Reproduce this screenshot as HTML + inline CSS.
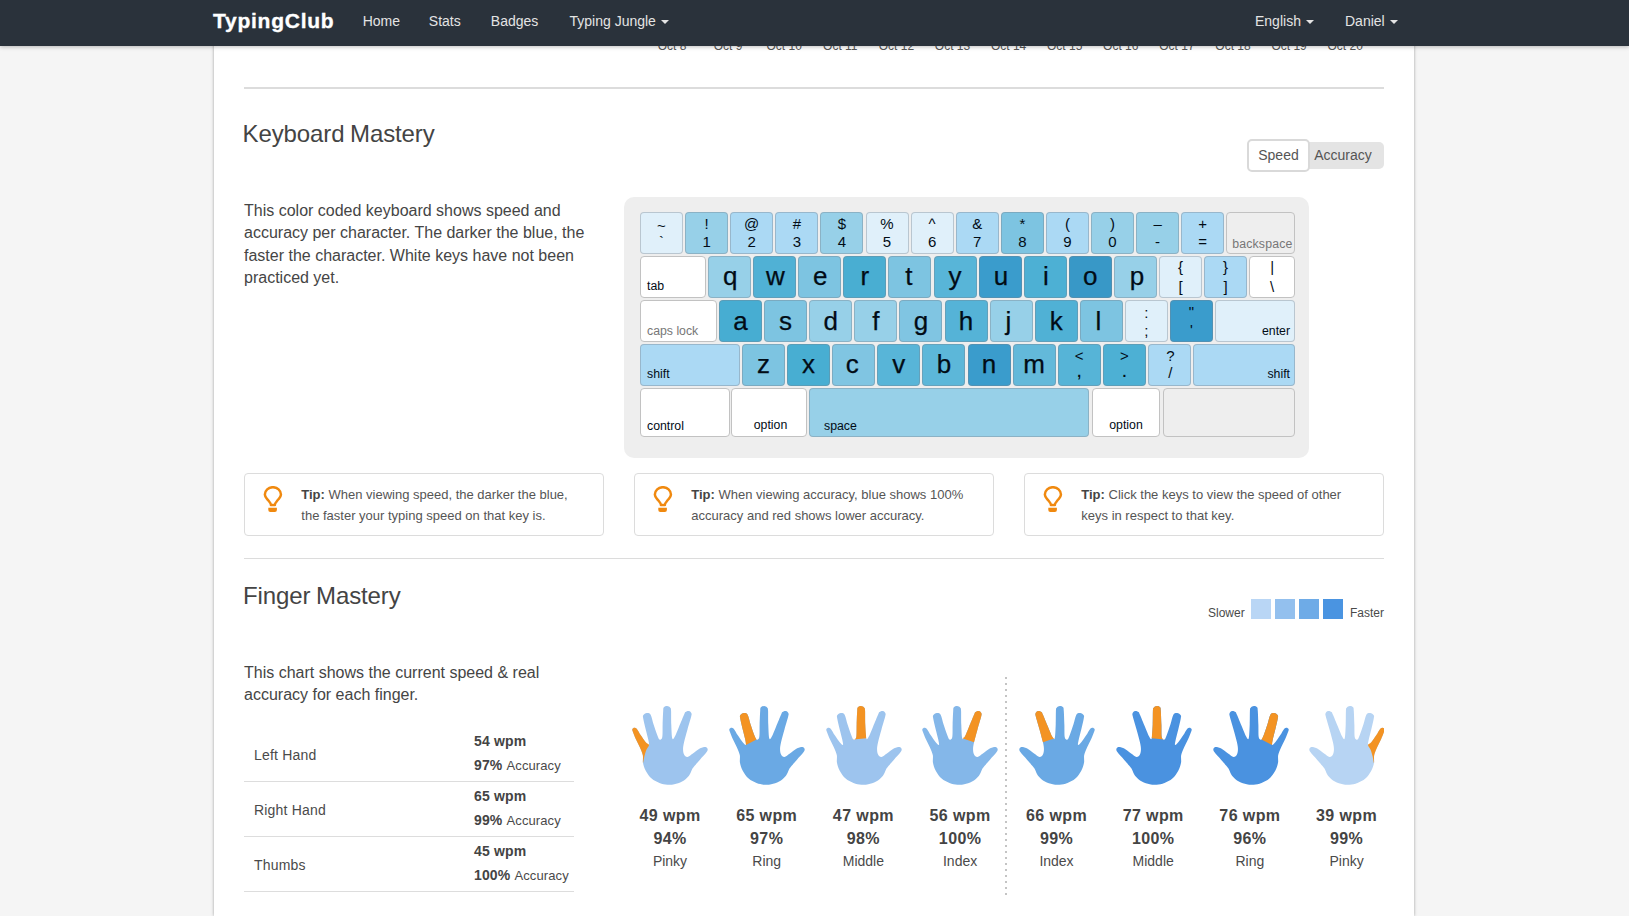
<!DOCTYPE html>
<html lang="en"><head><meta charset="utf-8"><title>TypingClub - Stats</title>
<style>
*{box-sizing:border-box}
html,body{margin:0;padding:0}
body{width:1629px;height:916px;overflow:hidden;background:#f5f5f5;font-family:"Liberation Sans", Arial, sans-serif;color:#444;position:relative}
.abs{position:absolute;white-space:nowrap}
#page{position:absolute;left:214px;top:0;width:1200px;height:916px;background:#fff;box-shadow:0 0 3px rgba(0,0,0,.35)}
#nav{position:absolute;left:0;top:0;width:1629px;height:46px;background:#2a323b;box-shadow:0 1px 4px rgba(0,0,0,.25);z-index:5}
#nav .lnk{position:absolute;top:0;line-height:42px;font-size:14px;color:#e4e4e4;white-space:nowrap}
#nav .brand{position:absolute;left:213px;top:0;line-height:41px;font-size:21px;font-weight:bold;color:#fff;letter-spacing:.75px;-webkit-text-stroke:.35px #fff}
.caret{display:inline-block;width:0;height:0;border-left:4px solid transparent;border-right:4px solid transparent;border-top:4px solid #e4e4e4;vertical-align:middle;margin-left:5px;margin-top:-1px}
.hr{position:absolute;left:244px;width:1140px;height:2px;background:#dcdcdc}
h2{position:absolute;margin:0;font-weight:normal;font-size:24px;color:#444;white-space:nowrap;line-height:28px;letter-spacing:-.1px;word-spacing:-1px}
.desc{position:absolute;left:244px;font-size:16px;line-height:22.4px;color:#454545;white-space:nowrap}
#kb{position:absolute;left:624px;top:197px;width:685px;height:261px;background:#eeeeee;border-radius:10px}
.k{position:absolute;border:1px solid rgba(120,130,140,.38);border-radius:4px;color:#020c16;text-align:center;overflow:hidden}
.k.w0{border-color:#c2c2c2}
.k .c{position:absolute;left:0;right:0;white-space:nowrap}
.k .one{font-size:26px;line-height:26px;top:5.5px;-webkit-text-stroke:.25px #020c16}
.k .t1{font-size:15px;line-height:15px;top:2.5px}
.k .t2{font-size:15px;line-height:15px;top:22.5px}
.k .lb{font-size:12.3px;line-height:12px;position:absolute;bottom:5px;white-space:nowrap}
.tip{position:absolute;top:473px;width:360px;height:63px;border:1px solid #dcdcdc;border-radius:4px;background:#fff}
.tip svg{position:absolute;left:17.5px;top:12px}
.tip p{position:absolute;left:56.3px;top:11px;margin:0;font-size:13px;line-height:20.8px;color:#555;white-space:nowrap;letter-spacing:0}
.tip b{color:#444}
.tbl{position:absolute;left:244px;width:330px;height:55px;border-bottom:1px solid #ddd}
.tbl .n{position:absolute;left:10px;top:1px;line-height:54px;font-size:14px;color:#4a4a4a;letter-spacing:.2px}
.tbl .a{position:absolute;left:230px;top:2.3px;font-size:14px;letter-spacing:.15px;line-height:24.0px;color:#444;white-space:nowrap}
.tbl .a span{font-size:13px;letter-spacing:.1px;color:#4a4a4a}
.hd{position:absolute;top:700px;width:90px;height:90px;overflow:visible}
.ft{position:absolute;width:120px;text-align:center;white-space:nowrap;color:#444}
.ft.b{font-weight:bold;font-size:16px;line-height:20px;letter-spacing:.4px}
.ft.l{font-size:14px;line-height:18px;color:#4a4a4a}
</style></head><body>

<div id="page"></div>
<div class="abs" style="left:642.0px;top:38px;width:60px;text-align:center;font-size:12px;line-height:16px;color:#555">Oct 8</div>
<div class="abs" style="left:698.1px;top:38px;width:60px;text-align:center;font-size:12px;line-height:16px;color:#555">Oct 9</div>
<div class="abs" style="left:754.2px;top:38px;width:60px;text-align:center;font-size:12px;line-height:16px;color:#555">Oct 10</div>
<div class="abs" style="left:810.3px;top:38px;width:60px;text-align:center;font-size:12px;line-height:16px;color:#555">Oct 11</div>
<div class="abs" style="left:866.4px;top:38px;width:60px;text-align:center;font-size:12px;line-height:16px;color:#555">Oct 12</div>
<div class="abs" style="left:922.5px;top:38px;width:60px;text-align:center;font-size:12px;line-height:16px;color:#555">Oct 13</div>
<div class="abs" style="left:978.6px;top:38px;width:60px;text-align:center;font-size:12px;line-height:16px;color:#555">Oct 14</div>
<div class="abs" style="left:1034.7px;top:38px;width:60px;text-align:center;font-size:12px;line-height:16px;color:#555">Oct 15</div>
<div class="abs" style="left:1090.8px;top:38px;width:60px;text-align:center;font-size:12px;line-height:16px;color:#555">Oct 16</div>
<div class="abs" style="left:1146.9px;top:38px;width:60px;text-align:center;font-size:12px;line-height:16px;color:#555">Oct 17</div>
<div class="abs" style="left:1203.0px;top:38px;width:60px;text-align:center;font-size:12px;line-height:16px;color:#555">Oct 18</div>
<div class="abs" style="left:1259.1px;top:38px;width:60px;text-align:center;font-size:12px;line-height:16px;color:#555">Oct 19</div>
<div class="abs" style="left:1315.2px;top:38px;width:60px;text-align:center;font-size:12px;line-height:16px;color:#555">Oct 20</div>
<div id="nav"><div class="brand">TypingClub</div>
<div class="lnk" style="left:362.7px">Home</div>
<div class="lnk" style="left:428.8px">Stats</div>
<div class="lnk" style="left:490.8px">Badges</div>
<div class="lnk" style="left:569.5px">Typing Jungle<span class="caret"></span></div>
<div class="lnk" style="left:1255.0px">English<span class="caret"></span></div>
<div class="lnk" style="left:1345.0px">Daniel<span class="caret"></span></div>
</div>
<div class="hr" style="top:87px"></div>
<h2 style="left:242.5px;top:120px">Keyboard Mastery</h2>
<div class="abs" style="left:1309px;top:142px;width:75px;height:27px;background:#e4e4e4;border-radius:0 5px 5px 0;font-size:14px;line-height:27px;color:#555;text-align:center;padding-right:7px">Accuracy</div>
<div class="abs" style="left:1247px;top:139px;width:63px;height:33px;background:#fff;border:2px solid #d9d9d9;border-radius:5px;font-size:14px;line-height:28px;color:#555;text-align:center">Speed</div>
<div class="desc" style="top:200px">This color coded keyboard shows speed and<br>accuracy per character. The darker the blue, the<br>faster the character. White keys have not been<br>practiced yet.</div>
<div id="kb">
<div class="k" style="left:16.0px;top:15.0px;width:43.0px;height:42px;background:#e0f0fa"><span class="c t1" style="top:2.5px;margin-top:2px">~</span><span class="c t2" style="top:21.0px">`</span></div>
<div class="k" style="left:61.1px;top:15.0px;width:43.0px;height:42px;background:#97d0e8"><span class="c t1" style="top:2.5px">!</span><span class="c t2" style="top:21.0px">1</span></div>
<div class="k" style="left:106.2px;top:15.0px;width:43.0px;height:42px;background:#abd9f4"><span class="c t1" style="top:2.5px">@</span><span class="c t2" style="top:21.0px">2</span></div>
<div class="k" style="left:151.3px;top:15.0px;width:43.0px;height:42px;background:#abd9f4"><span class="c t1" style="top:2.5px">#</span><span class="c t2" style="top:21.0px">3</span></div>
<div class="k" style="left:196.4px;top:15.0px;width:43.0px;height:42px;background:#97d0e8"><span class="c t1" style="top:2.5px">$</span><span class="c t2" style="top:21.0px">4</span></div>
<div class="k" style="left:241.5px;top:15.0px;width:43.0px;height:42px;background:#e0f0fa"><span class="c t1" style="top:2.5px">%</span><span class="c t2" style="top:21.0px">5</span></div>
<div class="k" style="left:286.6px;top:15.0px;width:43.0px;height:42px;background:#e0f0fa"><span class="c t1" style="top:2.5px">^</span><span class="c t2" style="top:21.0px">6</span></div>
<div class="k" style="left:331.7px;top:15.0px;width:43.0px;height:42px;background:#abd9f4"><span class="c t1" style="top:2.5px">&amp;</span><span class="c t2" style="top:21.0px">7</span></div>
<div class="k" style="left:376.8px;top:15.0px;width:43.0px;height:42px;background:#7dc4e1"><span class="c t1" style="top:2.5px">*</span><span class="c t2" style="top:21.0px">8</span></div>
<div class="k" style="left:421.9px;top:15.0px;width:43.0px;height:42px;background:#abd9f4"><span class="c t1" style="top:2.5px">(</span><span class="c t2" style="top:21.0px">9</span></div>
<div class="k" style="left:467.0px;top:15.0px;width:43.0px;height:42px;background:#97d0e8"><span class="c t1" style="top:2.5px">)</span><span class="c t2" style="top:21.0px">0</span></div>
<div class="k" style="left:512.1px;top:15.0px;width:43.0px;height:42px;background:#97d0e8"><span class="c t1" style="top:2.5px">–</span><span class="c t2" style="top:21.0px">-</span></div>
<div class="k" style="left:557.2px;top:15.0px;width:43.0px;height:42px;background:#abd9f4"><span class="c t1" style="top:2.5px">+</span><span class="c t2" style="top:21.0px">=</span></div>
<div class="k w0" style="left:602.3px;top:15.0px;width:68.7px;height:42px;background:#eeeeee"><span class="lb" style="left:6px;color:#777;bottom:3px;letter-spacing:.15px;left:5px;margin-bottom:0px">backspace</span></div>
<div class="k w0" style="left:16.0px;top:59.1px;width:66.0px;height:42px;background:#ffffff"><span class="lb" style="left:6px;margin-bottom:0px">tab</span></div>
<div class="k" style="left:84.0px;top:59.1px;width:43.0px;height:42px;background:#97d0e8"><span class="c one" style="margin-left:1.6px;margin-top:0px">q</span></div>
<div class="k" style="left:129.1px;top:59.1px;width:43.0px;height:42px;background:#50b1d5"><span class="c one" style="margin-left:1.6px;margin-top:0px">w</span></div>
<div class="k" style="left:174.2px;top:59.1px;width:43.0px;height:42px;background:#7dc4e1"><span class="c one" style="margin-left:1.0px;margin-top:0px">e</span></div>
<div class="k" style="left:219.3px;top:59.1px;width:43.0px;height:42px;background:#49aed2"><span class="c one" style="margin-left:0.0px;margin-top:0px">r</span></div>
<div class="k" style="left:264.4px;top:59.1px;width:43.0px;height:42px;background:#7dc4e1"><span class="c one" style="margin-left:-2.0px;margin-top:0px">t</span></div>
<div class="k" style="left:309.5px;top:59.1px;width:43.0px;height:42px;background:#58b5d8"><span class="c one" style="margin-left:0.0px;margin-top:0px">y</span></div>
<div class="k" style="left:354.6px;top:59.1px;width:43.0px;height:42px;background:#3a9ccc"><span class="c one" style="margin-left:2.0px;margin-top:0px">u</span></div>
<div class="k" style="left:399.7px;top:59.1px;width:43.0px;height:42px;background:#4db0d4"><span class="c one" style="margin-left:1.4px;margin-top:0px">i</span></div>
<div class="k" style="left:444.8px;top:59.1px;width:43.0px;height:42px;background:#3898c7"><span class="c one" style="margin-left:0.0px;margin-top:0px">o</span></div>
<div class="k" style="left:489.9px;top:59.1px;width:43.0px;height:42px;background:#97d0e8"><span class="c one" style="margin-left:3.0px;margin-top:0px">p</span></div>
<div class="k" style="left:535.0px;top:59.1px;width:43.0px;height:42px;background:#e0f0fa"><span class="c t1" style="top:1.5px">{</span><span class="c t2" style="top:22.0px">[</span></div>
<div class="k" style="left:580.1px;top:59.1px;width:43.0px;height:42px;background:#abd9f4"><span class="c t1" style="top:1.5px">}</span><span class="c t2" style="top:22.0px">]</span></div>
<div class="k w0" style="left:625.2px;top:59.1px;width:45.8px;height:42px;background:#ffffff"><span class="c t1" style="top:1.5px">|</span><span class="c t2" style="top:22.0px">\</span></div>
<div class="k w0" style="left:16.0px;top:103.2px;width:76.5px;height:42px;background:#ffffff"><span class="lb" style="left:6px;color:#777;margin-bottom:-1px">caps lock</span></div>
<div class="k" style="left:95.0px;top:103.2px;width:43.0px;height:42px;background:#47add2"><span class="c one" style="margin-left:0.0px;margin-top:1px">a</span></div>
<div class="k" style="left:140.1px;top:103.2px;width:43.0px;height:42px;background:#7dc4e1"><span class="c one" style="margin-left:0.0px;margin-top:1px">s</span></div>
<div class="k" style="left:185.2px;top:103.2px;width:43.0px;height:42px;background:#97d0e8"><span class="c one" style="margin-left:0.0px;margin-top:1px">d</span></div>
<div class="k" style="left:230.3px;top:103.2px;width:43.0px;height:42px;background:#97d0e8"><span class="c one" style="margin-left:0.0px;margin-top:1px">f</span></div>
<div class="k" style="left:275.4px;top:103.2px;width:43.0px;height:42px;background:#80c5e2"><span class="c one" style="margin-left:0.0px;margin-top:1px">g</span></div>
<div class="k" style="left:320.5px;top:103.2px;width:43.0px;height:42px;background:#55b3d7"><span class="c one" style="margin-left:0.0px;margin-top:1px">h</span></div>
<div class="k" style="left:365.6px;top:103.2px;width:43.0px;height:42px;background:#97d0e8"><span class="c one" style="margin-left:-5.2px;margin-top:1px">j</span></div>
<div class="k" style="left:410.7px;top:103.2px;width:43.0px;height:42px;background:#50b1d5"><span class="c one" style="margin-left:0.0px;margin-top:1px">k</span></div>
<div class="k" style="left:455.8px;top:103.2px;width:43.0px;height:42px;background:#7dc4e1"><span class="c one" style="margin-left:-6.0px;margin-top:1px">l</span></div>
<div class="k" style="left:500.9px;top:103.2px;width:43.0px;height:42px;background:#e0f0fa"><span class="c t1" style="top:3.5px">:</span><span class="c t2" style="top:22.0px">;</span></div>
<div class="k" style="left:546.0px;top:103.2px;width:43.0px;height:42px;background:#3a9ccc"><span class="c t1" style="top:2.5px">"</span><span class="c t2" style="top:21.0px">'</span></div>
<div class="k" style="left:591.1px;top:103.2px;width:79.9px;height:42px;background:#e0f0fa"><span class="lb" style="right:4px;margin-bottom:-1px">enter</span></div>
<div class="k" style="left:16.0px;top:147.3px;width:100.0px;height:42px;background:#abd9f4"><span class="lb" style="left:6px;margin-bottom:0px">shift</span></div>
<div class="k" style="left:118.0px;top:147.3px;width:43.0px;height:42px;background:#7dc4e1"><span class="c one" style="margin-left:0.0px;margin-top:0px">z</span></div>
<div class="k" style="left:163.1px;top:147.3px;width:43.0px;height:42px;background:#48aed2"><span class="c one" style="margin-left:0.0px;margin-top:0px">x</span></div>
<div class="k" style="left:208.2px;top:147.3px;width:43.0px;height:42px;background:#80c5e2"><span class="c one" style="margin-left:-3.0px;margin-top:0px">c</span></div>
<div class="k" style="left:253.3px;top:147.3px;width:43.0px;height:42px;background:#58b5d8"><span class="c one" style="margin-left:0.0px;margin-top:0px">v</span></div>
<div class="k" style="left:298.4px;top:147.3px;width:43.0px;height:42px;background:#5cb7d9"><span class="c one" style="margin-left:0.0px;margin-top:0px">b</span></div>
<div class="k" style="left:343.5px;top:147.3px;width:43.0px;height:42px;background:#3a9ccc"><span class="c one" style="margin-left:0.0px;margin-top:0px">n</span></div>
<div class="k" style="left:388.6px;top:147.3px;width:43.0px;height:42px;background:#63b9da"><span class="c one" style="margin-left:0.0px;margin-top:0px">m</span></div>
<div class="k" style="left:433.7px;top:147.3px;width:43.0px;height:42px;background:#56b4d7"><span class="c t1" style="top:2.5px">&lt;</span><span class="c t2" style="font-size:21px;line-height:21px;top:14px">,</span></div>
<div class="k" style="left:478.8px;top:147.3px;width:43.0px;height:42px;background:#4db0d4"><span class="c t1" style="top:2.5px">&gt;</span><span class="c t2" style="font-size:21px;line-height:21px;top:14px">.</span></div>
<div class="k" style="left:523.9px;top:147.3px;width:43.0px;height:42px;background:#abd9f4"><span class="c t1" style="top:2.5px;margin-left:2px">?</span><span class="c t2" style="top:19.5px;margin-left:2px">/</span></div>
<div class="k" style="left:569.0px;top:147.3px;width:102.0px;height:42px;background:#abd9f4"><span class="lb" style="right:4px;margin-bottom:0px">shift</span></div>
<div class="k w0" style="left:16.0px;top:191.4px;width:90.0px;height:49px;background:#ffffff"><span class="lb" style="left:6px;margin-bottom:-1px">control</span></div>
<div class="k w0" style="left:107.0px;top:191.4px;width:76.0px;height:49px;background:#ffffff"><span class="lb" style="left:3px;right:0;bottom:5px">option</span></div>
<div class="k" style="left:185.0px;top:191.4px;width:280.0px;height:49px;background:#97d0e8"><span class="lb" style="left:14px;margin-bottom:-1px">space</span></div>
<div class="k w0" style="left:468.0px;top:191.4px;width:68.0px;height:49px;background:#ffffff"><span class="lb" style="left:0px;right:0;bottom:5px">option</span></div>
<div class="k w0" style="left:539.0px;top:191.4px;width:132.0px;height:49px;background:#eeeeee"></div>
</div>
<div class="tip" style="left:244px"><svg width="20" height="27" viewBox="0 0 20 27"><path d="M7.9 19.100C7.9 17 6.200 15.600 4.600 13.600C3.200 11.800 1.850 10.600 1.850 8.600C1.850 4.500 5.450 1.200 9.900 1.200C14.350 1.200 17.950 4.500 17.950 8.600C17.950 10.600 16.600 11.800 15.200 13.600C13.600 15.600 11.900 17 11.900 19.100Z" fill="none" stroke="#f0890f" stroke-width="2.500" stroke-linejoin="round"/><path d="M5.300 21.800H13.900V24a2 2 0 0 1-2 2H7.300a2 2 0 0 1-2-2Z" fill="#f0890f"/></svg><p><b>Tip:</b> When viewing speed, the darker the blue,<br>the faster your typing speed on that key is.</p></div>
<div class="tip" style="left:634px"><svg width="20" height="27" viewBox="0 0 20 27"><path d="M7.9 19.100C7.9 17 6.200 15.600 4.600 13.600C3.200 11.800 1.850 10.600 1.850 8.600C1.850 4.500 5.450 1.200 9.900 1.200C14.350 1.200 17.950 4.500 17.950 8.600C17.950 10.600 16.600 11.800 15.200 13.600C13.600 15.600 11.900 17 11.900 19.100Z" fill="none" stroke="#f0890f" stroke-width="2.500" stroke-linejoin="round"/><path d="M5.300 21.800H13.900V24a2 2 0 0 1-2 2H7.300a2 2 0 0 1-2-2Z" fill="#f0890f"/></svg><p><b>Tip:</b> When viewing accuracy, blue shows 100%<br>accuracy and red shows lower accuracy.</p></div>
<div class="tip" style="left:1024px"><svg width="20" height="27" viewBox="0 0 20 27"><path d="M7.9 19.100C7.9 17 6.200 15.600 4.600 13.600C3.200 11.800 1.850 10.600 1.850 8.600C1.850 4.500 5.450 1.200 9.900 1.200C14.350 1.200 17.950 4.500 17.950 8.600C17.950 10.600 16.600 11.800 15.200 13.600C13.600 15.600 11.900 17 11.900 19.100Z" fill="none" stroke="#f0890f" stroke-width="2.500" stroke-linejoin="round"/><path d="M5.300 21.800H13.900V24a2 2 0 0 1-2 2H7.300a2 2 0 0 1-2-2Z" fill="#f0890f"/></svg><p><b>Tip:</b> Click the keys to view the speed of other<br>keys in respect to that key.</p></div>
<div class="hr" style="top:558px;height:1px"></div>
<h2 style="left:243px;top:582px">Finger Mastery</h2>
<div class="abs" style="left:1208px;top:606px;font-size:12px;line-height:14px;color:#4a4a4a">Slower</div>
<div class="abs" style="left:1251px;top:599px;width:20px;height:20px;background:#b9d6f5"></div>
<div class="abs" style="left:1275px;top:599px;width:20px;height:20px;background:#93c0ee"></div>
<div class="abs" style="left:1299px;top:599px;width:20px;height:20px;background:#6eabe7"></div>
<div class="abs" style="left:1323px;top:599px;width:20px;height:20px;background:#4a94e1"></div>
<div class="abs" style="left:1350px;top:606px;font-size:12px;line-height:14px;color:#4a4a4a">Faster</div>
<div class="desc" style="top:662px">This chart shows the current speed &amp; real<br>accuracy for each finger.</div>
<div class="tbl" style="top:727px"><div class="n">Left Hand</div><div class="a"><b>54 wpm</b><br><b>97%</b> <span>Accuracy</span></div></div>
<div class="tbl" style="top:782px"><div class="n">Right Hand</div><div class="a"><b>65 wpm</b><br><b>99%</b> <span>Accuracy</span></div></div>
<div class="tbl" style="top:837px"><div class="n">Thumbs</div><div class="a"><b>45 wpm</b><br><b>100%</b> <span>Accuracy</span></div></div>
<div class="abs" style="left:1005px;top:677px;width:2px;height:218px;background:repeating-linear-gradient(to bottom,#c4c4c4 0,#c4c4c4 2px,transparent 2px,transparent 6px)"></div>
<div class="abs" style="left:244px;top:660px;width:1140px;height:256px;overflow:hidden">
<svg class="hd" style="left:380.3px;top:39.8px" width="90" height="90" viewBox="0 0 90 90"><g><path d="M18.79 55.01C18.26 52.39 16.99 49.77 15.84 47.15C14.69 44.53 13.09 41.91 11.91 39.29C10.73 36.67 9.34 33.15 8.77 31.43C8.20 29.72 8.20 29.60 8.47 28.98C8.75 28.36 9.70 27.70 10.44 27.70C11.17 27.70 11.83 27.70 12.89 28.98C13.96 30.26 15.35 33.15 16.82 35.36C18.30 37.57 20.38 40.65 21.73 42.24C23.09 43.83 24.57 45.38 24.98 44.89C25.39 44.40 24.73 41.86 24.19 39.29C23.65 36.72 22.55 32.91 21.73 29.47C20.92 26.03 19.69 21.04 19.28 18.66C18.87 16.29 18.71 16.18 19.28 15.23C19.85 14.28 21.49 13.05 22.72 12.97C23.94 12.88 25.50 12.80 26.65 14.73C27.79 16.67 28.53 21.28 29.59 24.56C30.66 27.83 32.05 31.89 33.03 34.38C34.01 36.87 34.62 39.00 35.49 39.49C36.35 39.98 37.71 39.82 38.24 37.33C38.76 34.84 38.47 28.98 38.63 24.56C38.79 20.14 39.01 13.67 39.22 10.81C39.43 7.94 39.25 8.15 39.91 7.37C40.56 6.58 42.09 6.04 43.15 6.09C44.21 6.14 45.64 6.88 46.29 7.66C46.95 8.45 46.91 7.99 47.08 10.81C47.24 13.62 47.08 19.97 47.28 24.56C47.47 29.14 47.68 36.26 48.26 38.31C48.83 40.36 49.57 38.80 50.71 36.84C51.86 34.87 53.58 30.21 55.13 26.52C56.69 22.84 58.98 17.16 60.05 14.73C61.11 12.31 60.70 12.61 61.52 11.98C62.34 11.36 63.97 10.79 64.96 11.00C65.94 11.21 67.05 12.31 67.41 13.26C67.77 14.21 67.77 14.00 67.12 16.70C66.46 19.40 64.66 25.21 63.48 29.47C62.30 33.73 60.78 38.97 60.05 42.24C59.31 45.51 59.06 47.07 59.06 49.12C59.06 51.16 59.31 53.21 60.05 54.52C60.78 55.83 62.01 57.14 63.48 56.97C64.96 56.81 66.84 54.93 68.89 53.54C70.93 52.14 74.04 49.69 75.76 48.62C77.48 47.56 78.14 47.40 79.20 47.15C80.26 46.91 81.41 46.82 82.15 47.15C82.88 47.48 83.54 48.30 83.62 49.12C83.70 49.93 83.95 50.26 82.64 52.06C81.33 53.86 77.89 57.47 75.76 59.92C73.63 62.38 71.18 65.16 69.87 66.80C68.56 68.43 68.72 68.27 67.90 69.74C67.09 71.22 66.59 73.67 64.96 75.64C63.32 77.60 60.54 80.09 58.08 81.53C55.62 82.97 52.68 83.76 50.22 84.28C47.77 84.81 45.80 84.89 43.35 84.68C40.89 84.46 38.11 84.02 35.49 83.01C32.87 81.99 29.92 80.63 27.63 78.59C25.34 76.54 23.18 73.35 21.73 70.73C20.29 68.11 19.48 65.49 18.98 62.87C18.49 60.25 19.31 57.63 18.79 55.01Z" fill="#9dc4ee"/><path d="M18.98 62.87C18.72 62.62 19.31 57.63 18.79 55.01C18.26 52.39 16.99 49.77 15.84 47.15C14.69 44.53 13.09 41.91 11.91 39.29C10.73 36.67 9.34 33.15 8.77 31.43C8.20 29.72 8.20 29.60 8.47 28.98C8.75 28.36 9.70 27.70 10.44 27.70C11.17 27.70 11.83 27.70 12.89 28.98C13.96 30.26 15.35 33.15 16.82 35.36C18.30 37.57 20.38 40.65 21.73 42.24C23.09 43.83 24.85 43.66 24.98 44.89C25.11 46.12 23.29 47.68 22.52 49.61C21.75 51.54 20.95 54.27 20.36 56.48C19.77 58.69 19.25 63.11 18.98 62.87Z" fill="#f39323"/></g></svg>
<div class="ft b" style="left:366.0px;top:146px">49 wpm</div>
<div class="ft b" style="left:366.0px;top:169px">94%</div>
<div class="ft l" style="left:366.0px;top:192px">Pinky</div>
<svg class="hd" style="left:477.0px;top:39.8px" width="90" height="90" viewBox="0 0 90 90"><g><path d="M18.79 55.01C18.26 52.39 16.99 49.77 15.84 47.15C14.69 44.53 13.09 41.91 11.91 39.29C10.73 36.67 9.34 33.15 8.77 31.43C8.20 29.72 8.20 29.60 8.47 28.98C8.75 28.36 9.70 27.70 10.44 27.70C11.17 27.70 11.83 27.70 12.89 28.98C13.96 30.26 15.35 33.15 16.82 35.36C18.30 37.57 20.38 40.65 21.73 42.24C23.09 43.83 24.57 45.38 24.98 44.89C25.39 44.40 24.73 41.86 24.19 39.29C23.65 36.72 22.55 32.91 21.73 29.47C20.92 26.03 19.69 21.04 19.28 18.66C18.87 16.29 18.71 16.18 19.28 15.23C19.85 14.28 21.49 13.05 22.72 12.97C23.94 12.88 25.50 12.80 26.65 14.73C27.79 16.67 28.53 21.28 29.59 24.56C30.66 27.83 32.05 31.89 33.03 34.38C34.01 36.87 34.62 39.00 35.49 39.49C36.35 39.98 37.71 39.82 38.24 37.33C38.76 34.84 38.47 28.98 38.63 24.56C38.79 20.14 39.01 13.67 39.22 10.81C39.43 7.94 39.25 8.15 39.91 7.37C40.56 6.58 42.09 6.04 43.15 6.09C44.21 6.14 45.64 6.88 46.29 7.66C46.95 8.45 46.91 7.99 47.08 10.81C47.24 13.62 47.08 19.97 47.28 24.56C47.47 29.14 47.68 36.26 48.26 38.31C48.83 40.36 49.57 38.80 50.71 36.84C51.86 34.87 53.58 30.21 55.13 26.52C56.69 22.84 58.98 17.16 60.05 14.73C61.11 12.31 60.70 12.61 61.52 11.98C62.34 11.36 63.97 10.79 64.96 11.00C65.94 11.21 67.05 12.31 67.41 13.26C67.77 14.21 67.77 14.00 67.12 16.70C66.46 19.40 64.66 25.21 63.48 29.47C62.30 33.73 60.78 38.97 60.05 42.24C59.31 45.51 59.06 47.07 59.06 49.12C59.06 51.16 59.31 53.21 60.05 54.52C60.78 55.83 62.01 57.14 63.48 56.97C64.96 56.81 66.84 54.93 68.89 53.54C70.93 52.14 74.04 49.69 75.76 48.62C77.48 47.56 78.14 47.40 79.20 47.15C80.26 46.91 81.41 46.82 82.15 47.15C82.88 47.48 83.54 48.30 83.62 49.12C83.70 49.93 83.95 50.26 82.64 52.06C81.33 53.86 77.89 57.47 75.76 59.92C73.63 62.38 71.18 65.16 69.87 66.80C68.56 68.43 68.72 68.27 67.90 69.74C67.09 71.22 66.59 73.67 64.96 75.64C63.32 77.60 60.54 80.09 58.08 81.53C55.62 82.97 52.68 83.76 50.22 84.28C47.77 84.81 45.80 84.89 43.35 84.68C40.89 84.46 38.11 84.02 35.49 83.01C32.87 81.99 29.92 80.63 27.63 78.59C25.34 76.54 23.18 73.35 21.73 70.73C20.29 68.11 19.48 65.49 18.98 62.87C18.49 60.25 19.31 57.63 18.79 55.01Z" fill="#6aa9e4"/><path d="M24.98 44.89C24.85 43.96 24.73 41.86 24.19 39.29C23.65 36.72 22.55 32.91 21.73 29.47C20.92 26.03 19.69 21.04 19.28 18.66C18.87 16.29 18.71 16.18 19.28 15.23C19.85 14.28 21.49 13.05 22.72 12.97C23.94 12.88 25.50 12.80 26.65 14.73C27.79 16.67 28.53 21.28 29.59 24.56C30.66 27.83 32.05 31.89 33.03 34.38C34.01 36.87 35.08 38.64 35.49 39.49Z" fill="#f39323"/></g></svg>
<div class="ft b" style="left:462.7px;top:146px">65 wpm</div>
<div class="ft b" style="left:462.7px;top:169px">97%</div>
<div class="ft l" style="left:462.7px;top:192px">Ring</div>
<svg class="hd" style="left:573.7px;top:39.8px" width="90" height="90" viewBox="0 0 90 90"><g><path d="M18.79 55.01C18.26 52.39 16.99 49.77 15.84 47.15C14.69 44.53 13.09 41.91 11.91 39.29C10.73 36.67 9.34 33.15 8.77 31.43C8.20 29.72 8.20 29.60 8.47 28.98C8.75 28.36 9.70 27.70 10.44 27.70C11.17 27.70 11.83 27.70 12.89 28.98C13.96 30.26 15.35 33.15 16.82 35.36C18.30 37.57 20.38 40.65 21.73 42.24C23.09 43.83 24.57 45.38 24.98 44.89C25.39 44.40 24.73 41.86 24.19 39.29C23.65 36.72 22.55 32.91 21.73 29.47C20.92 26.03 19.69 21.04 19.28 18.66C18.87 16.29 18.71 16.18 19.28 15.23C19.85 14.28 21.49 13.05 22.72 12.97C23.94 12.88 25.50 12.80 26.65 14.73C27.79 16.67 28.53 21.28 29.59 24.56C30.66 27.83 32.05 31.89 33.03 34.38C34.01 36.87 34.62 39.00 35.49 39.49C36.35 39.98 37.71 39.82 38.24 37.33C38.76 34.84 38.47 28.98 38.63 24.56C38.79 20.14 39.01 13.67 39.22 10.81C39.43 7.94 39.25 8.15 39.91 7.37C40.56 6.58 42.09 6.04 43.15 6.09C44.21 6.14 45.64 6.88 46.29 7.66C46.95 8.45 46.91 7.99 47.08 10.81C47.24 13.62 47.08 19.97 47.28 24.56C47.47 29.14 47.68 36.26 48.26 38.31C48.83 40.36 49.57 38.80 50.71 36.84C51.86 34.87 53.58 30.21 55.13 26.52C56.69 22.84 58.98 17.16 60.05 14.73C61.11 12.31 60.70 12.61 61.52 11.98C62.34 11.36 63.97 10.79 64.96 11.00C65.94 11.21 67.05 12.31 67.41 13.26C67.77 14.21 67.77 14.00 67.12 16.70C66.46 19.40 64.66 25.21 63.48 29.47C62.30 33.73 60.78 38.97 60.05 42.24C59.31 45.51 59.06 47.07 59.06 49.12C59.06 51.16 59.31 53.21 60.05 54.52C60.78 55.83 62.01 57.14 63.48 56.97C64.96 56.81 66.84 54.93 68.89 53.54C70.93 52.14 74.04 49.69 75.76 48.62C77.48 47.56 78.14 47.40 79.20 47.15C80.26 46.91 81.41 46.82 82.15 47.15C82.88 47.48 83.54 48.30 83.62 49.12C83.70 49.93 83.95 50.26 82.64 52.06C81.33 53.86 77.89 57.47 75.76 59.92C73.63 62.38 71.18 65.16 69.87 66.80C68.56 68.43 68.72 68.27 67.90 69.74C67.09 71.22 66.59 73.67 64.96 75.64C63.32 77.60 60.54 80.09 58.08 81.53C55.62 82.97 52.68 83.76 50.22 84.28C47.77 84.81 45.80 84.89 43.35 84.68C40.89 84.46 38.11 84.02 35.49 83.01C32.87 81.99 29.92 80.63 27.63 78.59C25.34 76.54 23.18 73.35 21.73 70.73C20.29 68.11 19.48 65.49 18.98 62.87C18.49 60.25 19.31 57.63 18.79 55.01Z" fill="#9dc4ee"/><path d="M35.49 39.49C35.95 39.13 37.71 39.82 38.24 37.33C38.76 34.84 38.47 28.98 38.63 24.56C38.79 20.14 39.01 13.67 39.22 10.81C39.43 7.94 39.25 8.15 39.91 7.37C40.56 6.58 42.09 6.04 43.15 6.09C44.21 6.14 45.64 6.88 46.29 7.66C46.95 8.45 46.91 7.99 47.08 10.81C47.24 13.62 47.08 19.97 47.28 24.56C47.47 29.14 48.09 36.02 48.26 38.31Z" fill="#f39323"/></g></svg>
<div class="ft b" style="left:559.4px;top:146px">47 wpm</div>
<div class="ft b" style="left:559.4px;top:169px">98%</div>
<div class="ft l" style="left:559.4px;top:192px">Middle</div>
<svg class="hd" style="left:670.4px;top:39.8px" width="90" height="90" viewBox="0 0 90 90"><g><path d="M18.79 55.01C18.26 52.39 16.99 49.77 15.84 47.15C14.69 44.53 13.09 41.91 11.91 39.29C10.73 36.67 9.34 33.15 8.77 31.43C8.20 29.72 8.20 29.60 8.47 28.98C8.75 28.36 9.70 27.70 10.44 27.70C11.17 27.70 11.83 27.70 12.89 28.98C13.96 30.26 15.35 33.15 16.82 35.36C18.30 37.57 20.38 40.65 21.73 42.24C23.09 43.83 24.57 45.38 24.98 44.89C25.39 44.40 24.73 41.86 24.19 39.29C23.65 36.72 22.55 32.91 21.73 29.47C20.92 26.03 19.69 21.04 19.28 18.66C18.87 16.29 18.71 16.18 19.28 15.23C19.85 14.28 21.49 13.05 22.72 12.97C23.94 12.88 25.50 12.80 26.65 14.73C27.79 16.67 28.53 21.28 29.59 24.56C30.66 27.83 32.05 31.89 33.03 34.38C34.01 36.87 34.62 39.00 35.49 39.49C36.35 39.98 37.71 39.82 38.24 37.33C38.76 34.84 38.47 28.98 38.63 24.56C38.79 20.14 39.01 13.67 39.22 10.81C39.43 7.94 39.25 8.15 39.91 7.37C40.56 6.58 42.09 6.04 43.15 6.09C44.21 6.14 45.64 6.88 46.29 7.66C46.95 8.45 46.91 7.99 47.08 10.81C47.24 13.62 47.08 19.97 47.28 24.56C47.47 29.14 47.68 36.26 48.26 38.31C48.83 40.36 49.57 38.80 50.71 36.84C51.86 34.87 53.58 30.21 55.13 26.52C56.69 22.84 58.98 17.16 60.05 14.73C61.11 12.31 60.70 12.61 61.52 11.98C62.34 11.36 63.97 10.79 64.96 11.00C65.94 11.21 67.05 12.31 67.41 13.26C67.77 14.21 67.77 14.00 67.12 16.70C66.46 19.40 64.66 25.21 63.48 29.47C62.30 33.73 60.78 38.97 60.05 42.24C59.31 45.51 59.06 47.07 59.06 49.12C59.06 51.16 59.31 53.21 60.05 54.52C60.78 55.83 62.01 57.14 63.48 56.97C64.96 56.81 66.84 54.93 68.89 53.54C70.93 52.14 74.04 49.69 75.76 48.62C77.48 47.56 78.14 47.40 79.20 47.15C80.26 46.91 81.41 46.82 82.15 47.15C82.88 47.48 83.54 48.30 83.62 49.12C83.70 49.93 83.95 50.26 82.64 52.06C81.33 53.86 77.89 57.47 75.76 59.92C73.63 62.38 71.18 65.16 69.87 66.80C68.56 68.43 68.72 68.27 67.90 69.74C67.09 71.22 66.59 73.67 64.96 75.64C63.32 77.60 60.54 80.09 58.08 81.53C55.62 82.97 52.68 83.76 50.22 84.28C47.77 84.81 45.80 84.89 43.35 84.68C40.89 84.46 38.11 84.02 35.49 83.01C32.87 81.99 29.92 80.63 27.63 78.59C25.34 76.54 23.18 73.35 21.73 70.73C20.29 68.11 19.48 65.49 18.98 62.87C18.49 60.25 19.31 57.63 18.79 55.01Z" fill="#84b7e9"/><path d="M48.26 38.31C48.67 38.06 49.57 38.80 50.71 36.84C51.86 34.87 53.58 30.21 55.13 26.52C56.69 22.84 58.98 17.16 60.05 14.73C61.11 12.31 60.70 12.61 61.52 11.98C62.34 11.36 63.97 10.79 64.96 11.00C65.94 11.21 67.05 12.31 67.41 13.26C67.77 14.21 67.77 14.00 67.12 16.70C66.46 19.40 64.66 25.21 63.48 29.47C62.30 33.73 60.62 40.11 60.05 42.24Z" fill="#f39323"/></g></svg>
<div class="ft b" style="left:656.1px;top:146px">56 wpm</div>
<div class="ft b" style="left:656.1px;top:169px">100%</div>
<div class="ft l" style="left:656.1px;top:192px">Index</div>
<svg class="hd" style="left:769.2px;top:39.8px" width="90" height="90" viewBox="0 0 90 90"><g transform="translate(90 0) scale(-1 1)"><path d="M18.79 55.01C18.26 52.39 16.99 49.77 15.84 47.15C14.69 44.53 13.09 41.91 11.91 39.29C10.73 36.67 9.34 33.15 8.77 31.43C8.20 29.72 8.20 29.60 8.47 28.98C8.75 28.36 9.70 27.70 10.44 27.70C11.17 27.70 11.83 27.70 12.89 28.98C13.96 30.26 15.35 33.15 16.82 35.36C18.30 37.57 20.38 40.65 21.73 42.24C23.09 43.83 24.57 45.38 24.98 44.89C25.39 44.40 24.73 41.86 24.19 39.29C23.65 36.72 22.55 32.91 21.73 29.47C20.92 26.03 19.69 21.04 19.28 18.66C18.87 16.29 18.71 16.18 19.28 15.23C19.85 14.28 21.49 13.05 22.72 12.97C23.94 12.88 25.50 12.80 26.65 14.73C27.79 16.67 28.53 21.28 29.59 24.56C30.66 27.83 32.05 31.89 33.03 34.38C34.01 36.87 34.62 39.00 35.49 39.49C36.35 39.98 37.71 39.82 38.24 37.33C38.76 34.84 38.47 28.98 38.63 24.56C38.79 20.14 39.01 13.67 39.22 10.81C39.43 7.94 39.25 8.15 39.91 7.37C40.56 6.58 42.09 6.04 43.15 6.09C44.21 6.14 45.64 6.88 46.29 7.66C46.95 8.45 46.91 7.99 47.08 10.81C47.24 13.62 47.08 19.97 47.28 24.56C47.47 29.14 47.68 36.26 48.26 38.31C48.83 40.36 49.57 38.80 50.71 36.84C51.86 34.87 53.58 30.21 55.13 26.52C56.69 22.84 58.98 17.16 60.05 14.73C61.11 12.31 60.70 12.61 61.52 11.98C62.34 11.36 63.97 10.79 64.96 11.00C65.94 11.21 67.05 12.31 67.41 13.26C67.77 14.21 67.77 14.00 67.12 16.70C66.46 19.40 64.66 25.21 63.48 29.47C62.30 33.73 60.78 38.97 60.05 42.24C59.31 45.51 59.06 47.07 59.06 49.12C59.06 51.16 59.31 53.21 60.05 54.52C60.78 55.83 62.01 57.14 63.48 56.97C64.96 56.81 66.84 54.93 68.89 53.54C70.93 52.14 74.04 49.69 75.76 48.62C77.48 47.56 78.14 47.40 79.20 47.15C80.26 46.91 81.41 46.82 82.15 47.15C82.88 47.48 83.54 48.30 83.62 49.12C83.70 49.93 83.95 50.26 82.64 52.06C81.33 53.86 77.89 57.47 75.76 59.92C73.63 62.38 71.18 65.16 69.87 66.80C68.56 68.43 68.72 68.27 67.90 69.74C67.09 71.22 66.59 73.67 64.96 75.64C63.32 77.60 60.54 80.09 58.08 81.53C55.62 82.97 52.68 83.76 50.22 84.28C47.77 84.81 45.80 84.89 43.35 84.68C40.89 84.46 38.11 84.02 35.49 83.01C32.87 81.99 29.92 80.63 27.63 78.59C25.34 76.54 23.18 73.35 21.73 70.73C20.29 68.11 19.48 65.49 18.98 62.87C18.49 60.25 19.31 57.63 18.79 55.01Z" fill="#6aa9e4"/><path d="M48.26 38.31C48.67 38.06 49.57 38.80 50.71 36.84C51.86 34.87 53.58 30.21 55.13 26.52C56.69 22.84 58.98 17.16 60.05 14.73C61.11 12.31 60.70 12.61 61.52 11.98C62.34 11.36 63.97 10.79 64.96 11.00C65.94 11.21 67.05 12.31 67.41 13.26C67.77 14.21 67.77 14.00 67.12 16.70C66.46 19.40 64.66 25.21 63.48 29.47C62.30 33.73 60.62 40.11 60.05 42.24Z" fill="#f39323"/></g></svg>
<div class="ft b" style="left:752.5px;top:146px">66 wpm</div>
<div class="ft b" style="left:752.5px;top:169px">99%</div>
<div class="ft l" style="left:752.5px;top:192px">Index</div>
<svg class="hd" style="left:865.9px;top:39.8px" width="90" height="90" viewBox="0 0 90 90"><g transform="translate(90 0) scale(-1 1)"><path d="M18.79 55.01C18.26 52.39 16.99 49.77 15.84 47.15C14.69 44.53 13.09 41.91 11.91 39.29C10.73 36.67 9.34 33.15 8.77 31.43C8.20 29.72 8.20 29.60 8.47 28.98C8.75 28.36 9.70 27.70 10.44 27.70C11.17 27.70 11.83 27.70 12.89 28.98C13.96 30.26 15.35 33.15 16.82 35.36C18.30 37.57 20.38 40.65 21.73 42.24C23.09 43.83 24.57 45.38 24.98 44.89C25.39 44.40 24.73 41.86 24.19 39.29C23.65 36.72 22.55 32.91 21.73 29.47C20.92 26.03 19.69 21.04 19.28 18.66C18.87 16.29 18.71 16.18 19.28 15.23C19.85 14.28 21.49 13.05 22.72 12.97C23.94 12.88 25.50 12.80 26.65 14.73C27.79 16.67 28.53 21.28 29.59 24.56C30.66 27.83 32.05 31.89 33.03 34.38C34.01 36.87 34.62 39.00 35.49 39.49C36.35 39.98 37.71 39.82 38.24 37.33C38.76 34.84 38.47 28.98 38.63 24.56C38.79 20.14 39.01 13.67 39.22 10.81C39.43 7.94 39.25 8.15 39.91 7.37C40.56 6.58 42.09 6.04 43.15 6.09C44.21 6.14 45.64 6.88 46.29 7.66C46.95 8.45 46.91 7.99 47.08 10.81C47.24 13.62 47.08 19.97 47.28 24.56C47.47 29.14 47.68 36.26 48.26 38.31C48.83 40.36 49.57 38.80 50.71 36.84C51.86 34.87 53.58 30.21 55.13 26.52C56.69 22.84 58.98 17.16 60.05 14.73C61.11 12.31 60.70 12.61 61.52 11.98C62.34 11.36 63.97 10.79 64.96 11.00C65.94 11.21 67.05 12.31 67.41 13.26C67.77 14.21 67.77 14.00 67.12 16.70C66.46 19.40 64.66 25.21 63.48 29.47C62.30 33.73 60.78 38.97 60.05 42.24C59.31 45.51 59.06 47.07 59.06 49.12C59.06 51.16 59.31 53.21 60.05 54.52C60.78 55.83 62.01 57.14 63.48 56.97C64.96 56.81 66.84 54.93 68.89 53.54C70.93 52.14 74.04 49.69 75.76 48.62C77.48 47.56 78.14 47.40 79.20 47.15C80.26 46.91 81.41 46.82 82.15 47.15C82.88 47.48 83.54 48.30 83.62 49.12C83.70 49.93 83.95 50.26 82.64 52.06C81.33 53.86 77.89 57.47 75.76 59.92C73.63 62.38 71.18 65.16 69.87 66.80C68.56 68.43 68.72 68.27 67.90 69.74C67.09 71.22 66.59 73.67 64.96 75.64C63.32 77.60 60.54 80.09 58.08 81.53C55.62 82.97 52.68 83.76 50.22 84.28C47.77 84.81 45.80 84.89 43.35 84.68C40.89 84.46 38.11 84.02 35.49 83.01C32.87 81.99 29.92 80.63 27.63 78.59C25.34 76.54 23.18 73.35 21.73 70.73C20.29 68.11 19.48 65.49 18.98 62.87C18.49 60.25 19.31 57.63 18.79 55.01Z" fill="#4a92e0"/><path d="M35.49 39.49C35.95 39.13 37.71 39.82 38.24 37.33C38.76 34.84 38.47 28.98 38.63 24.56C38.79 20.14 39.01 13.67 39.22 10.81C39.43 7.94 39.25 8.15 39.91 7.37C40.56 6.58 42.09 6.04 43.15 6.09C44.21 6.14 45.64 6.88 46.29 7.66C46.95 8.45 46.91 7.99 47.08 10.81C47.24 13.62 47.08 19.97 47.28 24.56C47.47 29.14 48.09 36.02 48.26 38.31Z" fill="#f39323"/></g></svg>
<div class="ft b" style="left:849.2px;top:146px">77 wpm</div>
<div class="ft b" style="left:849.2px;top:169px">100%</div>
<div class="ft l" style="left:849.2px;top:192px">Middle</div>
<svg class="hd" style="left:962.6px;top:39.8px" width="90" height="90" viewBox="0 0 90 90"><g transform="translate(90 0) scale(-1 1)"><path d="M18.79 55.01C18.26 52.39 16.99 49.77 15.84 47.15C14.69 44.53 13.09 41.91 11.91 39.29C10.73 36.67 9.34 33.15 8.77 31.43C8.20 29.72 8.20 29.60 8.47 28.98C8.75 28.36 9.70 27.70 10.44 27.70C11.17 27.70 11.83 27.70 12.89 28.98C13.96 30.26 15.35 33.15 16.82 35.36C18.30 37.57 20.38 40.65 21.73 42.24C23.09 43.83 24.57 45.38 24.98 44.89C25.39 44.40 24.73 41.86 24.19 39.29C23.65 36.72 22.55 32.91 21.73 29.47C20.92 26.03 19.69 21.04 19.28 18.66C18.87 16.29 18.71 16.18 19.28 15.23C19.85 14.28 21.49 13.05 22.72 12.97C23.94 12.88 25.50 12.80 26.65 14.73C27.79 16.67 28.53 21.28 29.59 24.56C30.66 27.83 32.05 31.89 33.03 34.38C34.01 36.87 34.62 39.00 35.49 39.49C36.35 39.98 37.71 39.82 38.24 37.33C38.76 34.84 38.47 28.98 38.63 24.56C38.79 20.14 39.01 13.67 39.22 10.81C39.43 7.94 39.25 8.15 39.91 7.37C40.56 6.58 42.09 6.04 43.15 6.09C44.21 6.14 45.64 6.88 46.29 7.66C46.95 8.45 46.91 7.99 47.08 10.81C47.24 13.62 47.08 19.97 47.28 24.56C47.47 29.14 47.68 36.26 48.26 38.31C48.83 40.36 49.57 38.80 50.71 36.84C51.86 34.87 53.58 30.21 55.13 26.52C56.69 22.84 58.98 17.16 60.05 14.73C61.11 12.31 60.70 12.61 61.52 11.98C62.34 11.36 63.97 10.79 64.96 11.00C65.94 11.21 67.05 12.31 67.41 13.26C67.77 14.21 67.77 14.00 67.12 16.70C66.46 19.40 64.66 25.21 63.48 29.47C62.30 33.73 60.78 38.97 60.05 42.24C59.31 45.51 59.06 47.07 59.06 49.12C59.06 51.16 59.31 53.21 60.05 54.52C60.78 55.83 62.01 57.14 63.48 56.97C64.96 56.81 66.84 54.93 68.89 53.54C70.93 52.14 74.04 49.69 75.76 48.62C77.48 47.56 78.14 47.40 79.20 47.15C80.26 46.91 81.41 46.82 82.15 47.15C82.88 47.48 83.54 48.30 83.62 49.12C83.70 49.93 83.95 50.26 82.64 52.06C81.33 53.86 77.89 57.47 75.76 59.92C73.63 62.38 71.18 65.16 69.87 66.80C68.56 68.43 68.72 68.27 67.90 69.74C67.09 71.22 66.59 73.67 64.96 75.64C63.32 77.60 60.54 80.09 58.08 81.53C55.62 82.97 52.68 83.76 50.22 84.28C47.77 84.81 45.80 84.89 43.35 84.68C40.89 84.46 38.11 84.02 35.49 83.01C32.87 81.99 29.92 80.63 27.63 78.59C25.34 76.54 23.18 73.35 21.73 70.73C20.29 68.11 19.48 65.49 18.98 62.87C18.49 60.25 19.31 57.63 18.79 55.01Z" fill="#4a92e0"/><path d="M24.98 44.89C24.85 43.96 24.73 41.86 24.19 39.29C23.65 36.72 22.55 32.91 21.73 29.47C20.92 26.03 19.69 21.04 19.28 18.66C18.87 16.29 18.71 16.18 19.28 15.23C19.85 14.28 21.49 13.05 22.72 12.97C23.94 12.88 25.50 12.80 26.65 14.73C27.79 16.67 28.53 21.28 29.59 24.56C30.66 27.83 32.05 31.89 33.03 34.38C34.01 36.87 35.08 38.64 35.49 39.49Z" fill="#f39323"/></g></svg>
<div class="ft b" style="left:945.9px;top:146px">76 wpm</div>
<div class="ft b" style="left:945.9px;top:169px">96%</div>
<div class="ft l" style="left:945.9px;top:192px">Ring</div>
<svg class="hd" style="left:1059.3px;top:39.8px" width="90" height="90" viewBox="0 0 90 90"><g transform="translate(90 0) scale(-1 1)"><path d="M18.79 55.01C18.26 52.39 16.99 49.77 15.84 47.15C14.69 44.53 13.09 41.91 11.91 39.29C10.73 36.67 9.34 33.15 8.77 31.43C8.20 29.72 8.20 29.60 8.47 28.98C8.75 28.36 9.70 27.70 10.44 27.70C11.17 27.70 11.83 27.70 12.89 28.98C13.96 30.26 15.35 33.15 16.82 35.36C18.30 37.57 20.38 40.65 21.73 42.24C23.09 43.83 24.57 45.38 24.98 44.89C25.39 44.40 24.73 41.86 24.19 39.29C23.65 36.72 22.55 32.91 21.73 29.47C20.92 26.03 19.69 21.04 19.28 18.66C18.87 16.29 18.71 16.18 19.28 15.23C19.85 14.28 21.49 13.05 22.72 12.97C23.94 12.88 25.50 12.80 26.65 14.73C27.79 16.67 28.53 21.28 29.59 24.56C30.66 27.83 32.05 31.89 33.03 34.38C34.01 36.87 34.62 39.00 35.49 39.49C36.35 39.98 37.71 39.82 38.24 37.33C38.76 34.84 38.47 28.98 38.63 24.56C38.79 20.14 39.01 13.67 39.22 10.81C39.43 7.94 39.25 8.15 39.91 7.37C40.56 6.58 42.09 6.04 43.15 6.09C44.21 6.14 45.64 6.88 46.29 7.66C46.95 8.45 46.91 7.99 47.08 10.81C47.24 13.62 47.08 19.97 47.28 24.56C47.47 29.14 47.68 36.26 48.26 38.31C48.83 40.36 49.57 38.80 50.71 36.84C51.86 34.87 53.58 30.21 55.13 26.52C56.69 22.84 58.98 17.16 60.05 14.73C61.11 12.31 60.70 12.61 61.52 11.98C62.34 11.36 63.97 10.79 64.96 11.00C65.94 11.21 67.05 12.31 67.41 13.26C67.77 14.21 67.77 14.00 67.12 16.70C66.46 19.40 64.66 25.21 63.48 29.47C62.30 33.73 60.78 38.97 60.05 42.24C59.31 45.51 59.06 47.07 59.06 49.12C59.06 51.16 59.31 53.21 60.05 54.52C60.78 55.83 62.01 57.14 63.48 56.97C64.96 56.81 66.84 54.93 68.89 53.54C70.93 52.14 74.04 49.69 75.76 48.62C77.48 47.56 78.14 47.40 79.20 47.15C80.26 46.91 81.41 46.82 82.15 47.15C82.88 47.48 83.54 48.30 83.62 49.12C83.70 49.93 83.95 50.26 82.64 52.06C81.33 53.86 77.89 57.47 75.76 59.92C73.63 62.38 71.18 65.16 69.87 66.80C68.56 68.43 68.72 68.27 67.90 69.74C67.09 71.22 66.59 73.67 64.96 75.64C63.32 77.60 60.54 80.09 58.08 81.53C55.62 82.97 52.68 83.76 50.22 84.28C47.77 84.81 45.80 84.89 43.35 84.68C40.89 84.46 38.11 84.02 35.49 83.01C32.87 81.99 29.92 80.63 27.63 78.59C25.34 76.54 23.18 73.35 21.73 70.73C20.29 68.11 19.48 65.49 18.98 62.87C18.49 60.25 19.31 57.63 18.79 55.01Z" fill="#b7d4f3"/><path d="M18.98 62.87C18.72 62.62 19.31 57.63 18.79 55.01C18.26 52.39 16.99 49.77 15.84 47.15C14.69 44.53 13.09 41.91 11.91 39.29C10.73 36.67 9.34 33.15 8.77 31.43C8.20 29.72 8.20 29.60 8.47 28.98C8.75 28.36 9.70 27.70 10.44 27.70C11.17 27.70 11.83 27.70 12.89 28.98C13.96 30.26 15.35 33.15 16.82 35.36C18.30 37.57 20.38 40.65 21.73 42.24C23.09 43.83 24.85 43.66 24.98 44.89C25.11 46.12 23.29 47.68 22.52 49.61C21.75 51.54 20.95 54.27 20.36 56.48C19.77 58.69 19.25 63.11 18.98 62.87Z" fill="#f39323"/></g></svg>
<div class="ft b" style="left:1042.6px;top:146px">39 wpm</div>
<div class="ft b" style="left:1042.6px;top:169px">99%</div>
<div class="ft l" style="left:1042.6px;top:192px">Pinky</div>
</div>
</body></html>
